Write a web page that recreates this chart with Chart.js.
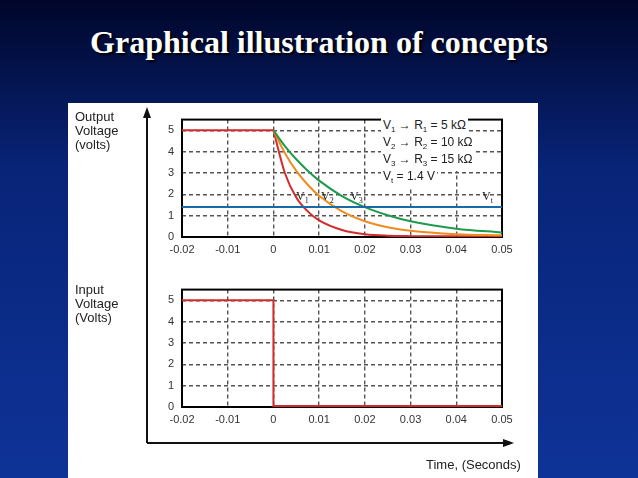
<!DOCTYPE html>
<html>
<head>
<meta charset="UTF-8">
<script src="https://cdn.jsdelivr.net/npm/chart.js"></script>
<style>
  * { margin: 0; padding: 0; box-sizing: border-box; }
  body { width: 638px; height: 478px; overflow: hidden; position: relative;
         background: linear-gradient(180deg, #00062a 0%, #082478 35%, #0e3398 100%);
         font-family: "Liberation Sans", Arial, sans-serif; }
  h1 { position: absolute; top: 24px; width: 100%; text-align: center; color: #fff;
       font: bold 32px "Liberation Serif", "Times New Roman", serif; text-shadow: 2px 2px 2px #000; }
  .panel { position: absolute; left: 68px; top: 103px; width: 470px; height: 375px; background: #fff; }
  canvas { position: absolute; }
  .lbl { position: absolute; font-size: 13px; color: #222; line-height: 14px; }
  .note { position: absolute; left: 381px; font-size: 12px; color: #222; background: #fff; padding: 0 2px; line-height: 15px; }
  .vl { position: absolute; top: 189px; font: 12px "Liberation Serif", serif; color: #222; }
  sub { font-size: 8px; }
  svg { position: absolute; left: 0; top: 0; }
</style>
</head>
<body>
<h1>Graphical illustration of concepts</h1>
<div class="panel"></div>
<canvas id="outChart" style="left:150px;top:105px;width:370px;height:160px"></canvas>
<canvas id="inChart" style="left:150px;top:275px;width:370px;height:160px"></canvas>
<svg width="638" height="478">
  <line x1="147" y1="443" x2="147" y2="116" stroke="#111" stroke-width="2"/>
  <polygon points="147,107 143,118 151,118" fill="#111"/>
  <line x1="147" y1="443" x2="505" y2="443" stroke="#111" stroke-width="2"/>
  <polygon points="514,443 503,439 503,447" fill="#111"/>
</svg>
<div class="lbl" style="left:75px;top:110px">Output<br>Voltage<br>(volts)</div>
<div class="lbl" style="left:75px;top:283px">Input<br>Voltage<br>(Volts)</div>
<div class="lbl" style="left:426px;top:458px">Time, (Seconds)</div>
<div class="note" style="top:118px">V<sub>1</sub> &rarr; R<sub>1</sub> = 5 k&Omega;</div>
<div class="note" style="top:135px">V<sub>2</sub> &rarr; R<sub>2</sub> = 10 k&Omega;</div>
<div class="note" style="top:152px">V<sub>3</sub> &rarr; R<sub>3</sub> = 15 k&Omega;</div>
<div class="note" style="top:169px">V<sub>t</sub> = 1.4 V</div>
<div class="vl" style="left:296px">V<sub>1</sub></div>
<div class="vl" style="left:321px">V<sub>2</sub></div>
<div class="vl" style="left:350px">V<sub>3</sub></div>
<div class="vl" style="left:482px">V<sub>t</sub></div>
<script>
const tDecay = [0, 0.0025, 0.005, 0.0075, 0.01, 0.015, 0.02, 0.025, 0.03, 0.04, 0.05];
const v1 = [5, 3.0, 1.85, 1.2, 0.78, 0.33, 0.13, 0.06, 0.04, 0.03, 0.03];
const v2 = [5, 3.94, 3.10, 2.45, 1.93, 1.20, 0.74, 0.46, 0.29, 0.13, 0.08];
const v3 = [5, 4.26, 3.64, 3.10, 2.64, 1.92, 1.40, 1.02, 0.74, 0.39, 0.21];
const vt = 1.4;
const tInput = [-0.02, 0, 0, 0.05];
const vInput = [5, 5, 0.05, 0.05];
const xTicks = [-0.02, -0.01, 0, 0.01, 0.02, 0.03, 0.04, 0.05];

const pts = (xs, ys) => xs.map((x, i) => ({ x: x, y: ys[i] }));

// solid black frame around the plot area
const frame = {
  id: "frame",
  beforeDatasetsDraw(c) {
    const a = c.chartArea, g = c.ctx;
    g.save(); g.setLineDash([]); g.strokeStyle = "#000"; g.lineWidth = 2;
    g.strokeRect(a.left, a.top, a.right - a.left, a.bottom - a.top);
    g.restore();
  }
};

function opts(topPad) {
  const grid = { color: "#555", lineWidth: 1.4, tickLength: 0 };
  const border = { display: false, dash: [4, 3] };
  return {
    responsive: false, animation: false,
    layout: { padding: { top: topPad, right: 18 } },
    plugins: { legend: { display: false }, tooltip: { enabled: false } },
    elements: { point: { radius: 0 } },
    scales: {
      x: {
        type: "linear", min: -0.02, max: 0.05,
        afterBuildTicks: s => { s.ticks = xTicks.map(v => ({ value: v })); },
        afterFit: s => { s.height = 28; },
        grid, border,
        ticks: { color: "#333", font: { size: 11 }, padding: 6,
                 callback: v => String(Math.round(v * 100) / 100) }
      },
      y: {
        min: 0, max: 5.5,
        afterFit: s => { s.width = 32; },
        grid, border,
        ticks: { stepSize: 1, includeBounds: false, color: "#333", font: { size: 11 }, padding: 8 }
      }
    }
  };
}

function mk(id, datasets, topPad) {
  const cv = document.getElementById(id);
  cv.width = 370; cv.height = 160;
  return new Chart(cv, { type: "line", data: { datasets }, options: opts(topPad), plugins: [frame] });
}

const line = (data, color, mode) => ({ data, borderColor: color, borderWidth: 2, fill: false,
  cubicInterpolationMode: mode || "monotone" });

mk("outChart", [
  line(pts([-0.02, 0], [5, 5]), "#d42a2a"),
  line(pts([-0.02, 0.05], [vt, vt]), "#1a6aa6"),
  line(pts(tDecay, v3), "#1f9a4c"),
  line(pts(tDecay, v2), "#f08c1e"),
  line(pts(tDecay, v1), "#d42a2a")
], 7);

mk("inChart", [line(pts(tInput, vInput), "#d42a2a", "default")], 8);
</script>
</body>
</html>
